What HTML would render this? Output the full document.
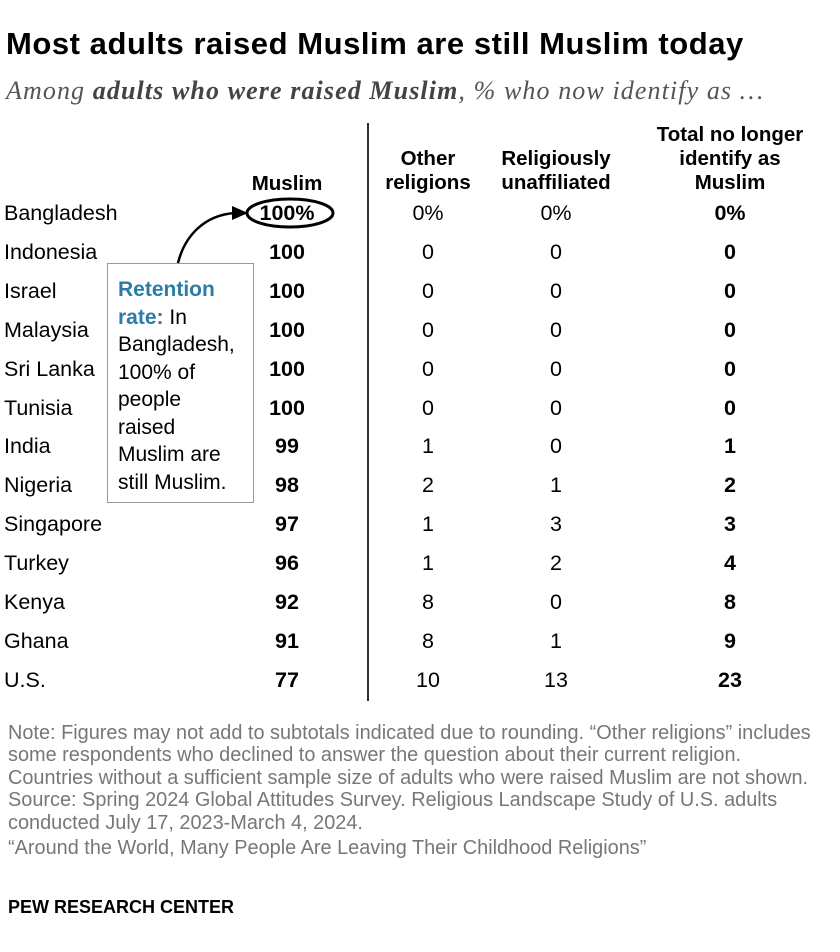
<!DOCTYPE html>
<html><head><meta charset="utf-8"><style>
body{margin:0;width:840px;height:952px;background:#fff;font-family:"Liberation Sans",sans-serif;position:relative;overflow:hidden;color:#000}
.a{position:absolute;white-space:nowrap}
.c{transform:translateX(-50%);text-align:center}
.r{font-size:21.5px;line-height:24px}
.h{font-size:20.5px;font-weight:bold;line-height:24px;text-align:center}
.n{font-size:19.9px;color:#777;left:8px;line-height:20px}
</style></head><body>
<div class="a" style="left:6px;top:26px;font-size:31px;font-weight:bold;letter-spacing:0.55px">Most adults raised Muslim are still Muslim today</div>
<div class="a" style="left:6px;top:76px;font-size:26px;font-style:italic;font-family:'Liberation Serif',serif;color:#555;letter-spacing:1.1px">Among <b style="color:#444">adults who were raised Muslim</b>, % who now identify as …</div>
<div class="a h c" style="left:287px;top:172px">Muslim</div>
<div class="a h c" style="left:428px;top:147px">Other<br>religions</div>
<div class="a h c" style="left:556px;top:147px">Religiously<br>unaffiliated</div>
<div class="a h c" style="left:730px;top:123px">Total no longer<br>identify as<br>Muslim</div>
<div class="a" style="left:367px;top:123px;width:2px;height:578px;background:#333"></div>
<div id="rows"></div>
<svg class="a" style="left:0;top:0" width="840" height="952">
<ellipse cx="290" cy="213" rx="43" ry="14" fill="none" stroke="#000" stroke-width="3"/>
<path d="M178 263 C185 235 205 215 235 213" fill="none" stroke="#000" stroke-width="2.5"/>
<polygon points="248,213 232,206 232,220" fill="#000"/>
</svg>
<div class="a" style="left:107px;top:263px;width:147px;height:240px;border:1.5px solid #999;background:#fff;box-sizing:border-box;padding:12px 0 0 10px;font-size:21px;line-height:27.5px"><b style="color:#2a7ea6">Retention<br>rate:</b> In<br>Bangladesh,<br>100% of<br>people<br>raised<br>Muslim are<br>still Muslim.</div>
<div class="a n" style="top:723px">Note: Figures may not add to subtotals indicated due to rounding. “Other religions” includes<br><span style="line-height:25px">some respondents who declined to answer the question about their current religion.</span><br>Countries without a sufficient sample size of adults who were raised Muslim are not shown.<br><span style="line-height:25px">Source: Spring 2024 Global Attitudes Survey. Religious Landscape Study of U.S. adults</span><br>conducted July 17, 2023-March 4, 2024.<br><span style="line-height:30px">“Around the World, Many People Are Leaving Their Childhood Religions”</span></div>
<div class="a" style="left:8px;top:897px;font-size:18px;font-weight:bold">PEW RESEARCH CENTER</div>
<script>
const countries=["Bangladesh","Indonesia","Israel","Malaysia","Sri Lanka","Tunisia","India","Nigeria","Singapore","Turkey","Kenya","Ghana","U.S."];
const muslim=[100,100,100,100,100,100,99,98,97,96,92,91,77];
const other=[0,0,0,0,0,0,1,2,1,1,8,8,10];
const unaffiliated=[0,0,0,0,0,0,0,1,3,2,0,1,13];
const total=[0,0,0,0,0,0,1,2,3,4,8,9,23];
const R=document.getElementById('rows');
function cell(txt,x,y,cls,bold,name){const d=document.createElement('div');d.className='a r '+cls;d.style.left=x+'px';d.style.top=(y-12)+'px';if(bold)d.style.fontWeight='bold';d.textContent=txt;


R.appendChild(d);}
countries.forEach((c,i)=>{const y=213+i*38.9;const p=i===0?'%':'';
cell(c,4,y,'',false,'country-label');
cell(muslim[i]+p,287,y,'c',true,'muslim-value');
cell(other[i]+p,428,y,'c',false,'other-value');
cell(unaffiliated[i]+p,556,y,'c',false,'unaffiliated-value');
cell(total[i]+p,730,y,'c',true,'total-value');});
</script>
</body></html>
